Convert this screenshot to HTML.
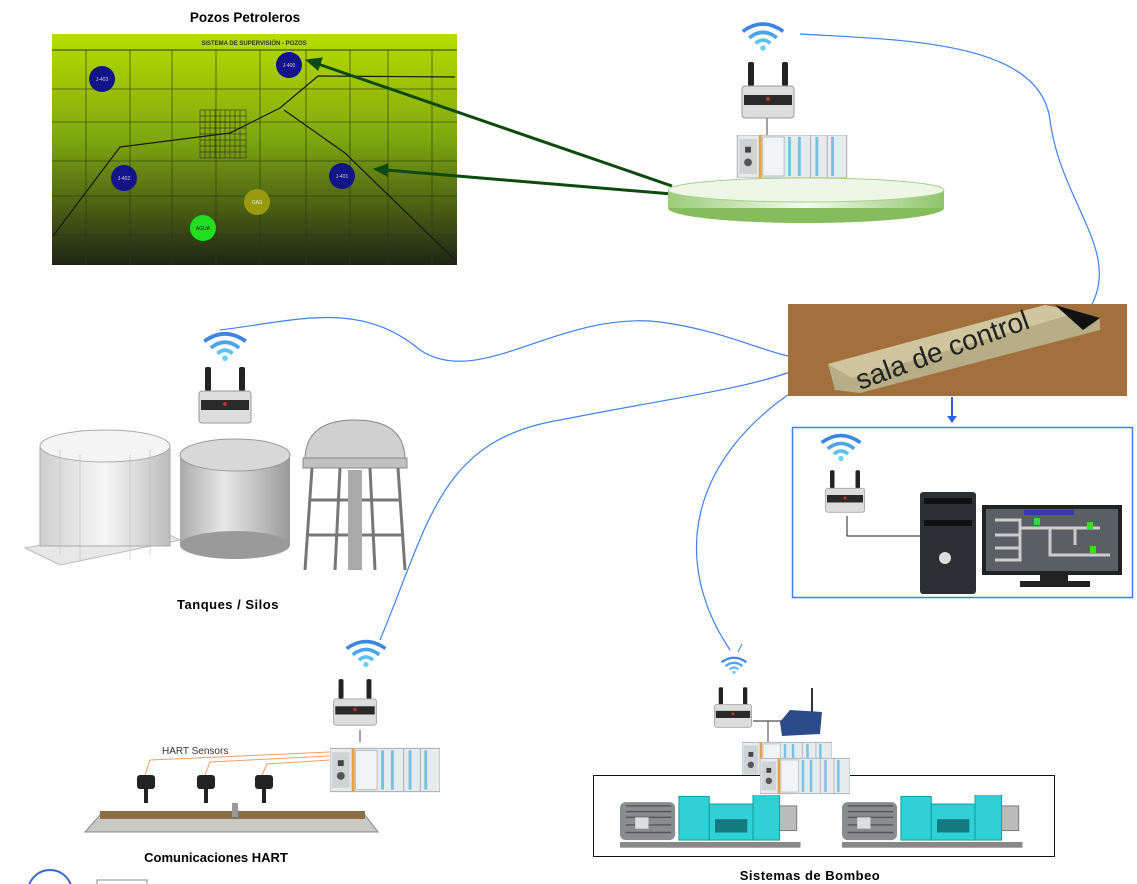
<!DOCTYPE html>
<html><head><meta charset="utf-8"><style>
html,body{margin:0;padding:0;background:#fff;}
svg{display:block;font-family:"Liberation Sans",sans-serif;}
</style></head><body>
<svg width="1137" height="884" viewBox="0 0 1137 884" xmlns="http://www.w3.org/2000/svg">
<defs>
<linearGradient id="gp" x1="0" y1="0" x2="0" y2="1">
<stop offset="0" stop-color="#b8dc00"/><stop offset="0.45" stop-color="#7fa810"/><stop offset="1" stop-color="#1e2416"/></linearGradient>
<linearGradient id="disk" x1="0" y1="0" x2="1" y2="0">
<stop offset="0" stop-color="#9ccc78"/><stop offset="0.5" stop-color="#f4fbef"/><stop offset="1" stop-color="#8fc46a"/></linearGradient>
<linearGradient id="tank" x1="0" y1="0" x2="1" y2="0">
<stop offset="0" stop-color="#cfcfcf"/><stop offset="0.5" stop-color="#f6f6f6"/><stop offset="1" stop-color="#bdbdbd"/></linearGradient>
<linearGradient id="silo" x1="0" y1="0" x2="1" y2="0">
<stop offset="0" stop-color="#aaa"/><stop offset="0.4" stop-color="#e8e8e8"/><stop offset="1" stop-color="#999"/></linearGradient>
<symbol id="wifi" viewBox="0 0 50 34">
<path d="M3 12 Q25 -4 47 12" stroke="#3a86e0" stroke-width="4" fill="none"/>
<path d="M10 19 Q25 7 40 19" stroke="#4ba4ea" stroke-width="4" fill="none"/>
<path d="M17 25 Q25 18 33 25" stroke="#5bc0f0" stroke-width="4" fill="none"/>
<circle cx="25" cy="30" r="3" fill="#6cd0f8"/>
</symbol>
<symbol id="router" viewBox="0 0 56 58">
<rect x="8" y="0" width="6" height="24" rx="2" fill="#222"/>
<rect x="42" y="0" width="6" height="24" rx="2" fill="#222"/>
<rect x="2" y="24" width="52" height="32" rx="3" fill="#ddd" stroke="#999"/>
<rect x="4" y="33" width="48" height="10" fill="#2a2a2a"/>
<circle cx="28" cy="37" r="2" fill="#b33"/>
</symbol>
<symbol id="plc" viewBox="0 0 112 44">
<rect x="0" y="0" width="112" height="44" fill="#e6ebee" stroke="#aab"/>
<rect x="2" y="4" width="18" height="36" fill="#cfd3d6"/>
<circle cx="11" cy="28" r="4" fill="#555"/>
<rect x="8" y="12" width="6" height="6" fill="#444"/>
<rect x="22" y="0" width="3" height="44" fill="#e8a040"/>
<rect x="26" y="2" width="22" height="40" fill="#f1f3f4" stroke="#bbb"/>
<rect x="52" y="2" width="3" height="40" fill="#7ac0e0"/>
<rect x="62" y="2" width="3" height="40" fill="#7ac0e0"/>
<rect x="80" y="2" width="3" height="40" fill="#7ac0e0"/>
<rect x="96" y="2" width="3" height="40" fill="#7ac0e0"/>
<line x1="75" y1="0" x2="75" y2="44" stroke="#aab"/>
<line x1="92" y1="0" x2="92" y2="44" stroke="#aab"/>
</symbol>
<symbol id="pump" viewBox="0 0 200 56">
<rect x="0" y="6" width="58" height="40" rx="6" fill="#8a8d90"/>
<g stroke="#555" stroke-width="1.5"><line x1="6" y1="10" x2="54" y2="10"/><line x1="6" y1="16" x2="54" y2="16"/><line x1="6" y1="22" x2="54" y2="22"/><line x1="6" y1="30" x2="54" y2="30"/><line x1="6" y1="38" x2="54" y2="38"/></g>
<rect x="16" y="22" width="14" height="12" fill="#ddd"/>
<rect x="62" y="0" width="32" height="46" fill="#2fd0d6" stroke="#199"/>
<rect x="94" y="8" width="46" height="38" fill="#2fd0d6" stroke="#199"/>
<rect x="100" y="24" width="34" height="14" fill="#147a80"/>
<rect x="140" y="-4" width="28" height="50" fill="#2fd0d6" stroke="#199"/>
<rect x="168" y="10" width="18" height="26" fill="#bbb" stroke="#777"/>
<rect x="0" y="48" width="190" height="6" fill="#888"/>
</symbol>
</defs>

<!-- blue connection curves -->
<g stroke="#3f7ff0" stroke-width="1.2" fill="none">
<path d="M800 34 C900 40 1040 40 1050 120 C1060 200 1120 250 1092 304"/>
<path d="M220 330 C300 320 360 300 420 350 C480 390 560 310 660 322 C720 330 760 350 788 356"/>
<path d="M380 640 C430 520 440 440 560 420 C660 400 740 390 790 372"/>
<path d="M730 650 C670 560 690 460 795 390"/>
</g>

<!-- Pozos Petroleros -->
<text x="245" y="22" font-size="13.5" font-weight="bold" text-anchor="middle">Pozos Petroleros</text>
<rect x="52" y="34" width="405" height="231" fill="url(#gp)"/>
<line x1="52" y1="50" x2="457" y2="50" stroke="#2a3a00" stroke-width="1"/>
<text x="254" y="45" font-size="6" font-weight="bold" text-anchor="middle" fill="#333">SISTEMA DE SUPERVISIÓN - POZOS</text>
<g stroke="#2a3a10" stroke-width="0.8" opacity="0.8">
<line x1="86" y1="50" x2="86" y2="265"/><line x1="130" y1="50" x2="130" y2="265"/><line x1="172" y1="50" x2="172" y2="265"/>
<line x1="216" y1="50" x2="216" y2="265"/><line x1="260" y1="50" x2="260" y2="265"/><line x1="306" y1="50" x2="306" y2="265"/>
<line x1="350" y1="50" x2="350" y2="265"/><line x1="388" y1="50" x2="388" y2="265"/><line x1="432" y1="50" x2="432" y2="265"/>
<line x1="52" y1="89" x2="457" y2="89"/><line x1="52" y1="122" x2="457" y2="122"/><line x1="52" y1="161" x2="457" y2="161"/>
<line x1="52" y1="196" x2="457" y2="196"/><line x1="52" y1="235" x2="457" y2="235"/>
</g>
<g stroke="#1a1a1a" stroke-width="0.5"><rect x="200" y="110" width="46" height="48" fill="none"/>
<path d="M205 110V158M210 110V158M215 110V158M220 110V158M225 110V158M230 110V158M235 110V158M240 110V158M200 116H246M200 122H246M200 128H246M200 134H246M200 140H246M200 146H246M200 152H246"/></g>
<polyline points="53,236 120,147 230,133 280,108 318,76 455,77" fill="none" stroke="#1a1a1a" stroke-width="1.2"/>
<polyline points="284,110 345,153 455,260" fill="none" stroke="#1a1a1a" stroke-width="1.2"/>
<g font-size="5" fill="#ccd" text-anchor="middle">
<circle cx="102" cy="79" r="13" fill="#14148a"/><text x="102" y="81">J-403</text>
<circle cx="289" cy="65" r="13" fill="#14148a"/><text x="289" y="67">J-400</text>
<circle cx="124" cy="178" r="13" fill="#14148a"/><text x="124" y="180">J-402</text>
<circle cx="342" cy="176" r="13" fill="#14148a"/><text x="342" y="178">J-401</text>
<circle cx="257" cy="202" r="13" fill="#9a9a10"/><text x="257" y="204" fill="#eee">GAS</text>
<circle cx="203" cy="228" r="13" fill="#22dd22"/><text x="203" y="230" fill="#222">AGUA</text>
</g>
<g stroke="#0e4a0e" stroke-width="3" fill="#0e4a0e">
<line x1="672" y1="186" x2="318" y2="64"/><polygon points="306,60 322,58 318,70" stroke-width="1"/>
<line x1="672" y1="194" x2="386" y2="170"/><polygon points="374,169 388,164 387,176" stroke-width="1"/>
</g>

<!-- top station -->
<ellipse cx="806" cy="208" rx="138" ry="15" fill="#86bd5c"/>
<rect x="668" y="190" width="276" height="18" fill="url(#disk)"/>
<ellipse cx="806" cy="190" rx="138" ry="12" fill="#eef7e6" stroke="#a8d090"/>
<line x1="767" y1="118" x2="767" y2="136" stroke="#444"/>
<use href="#wifi" x="740" y="20" width="46" height="32"/>
<use href="#router" x="740" y="62" width="56" height="58"/>
<use href="#plc" x="735" y="135" width="114" height="43"/>

<!-- sala de control -->
<rect x="788" y="304" width="339" height="92" fill="#a2703d"/>
<polygon points="828,364 1045,305 1100,318 1100,330 860,393 835,390" fill="#b7ad86"/>
<polygon points="828,364 1045,305 1080,312 852,378" fill="#cfc69f"/>
<polygon points="1055,305 1100,318 1083,330" fill="#111"/>
<text x="0" y="0" font-size="28" fill="#222" transform="translate(860 390) rotate(-20)">sala de control</text>
<line x1="952" y1="397" x2="952" y2="417" stroke="#3060e0" stroke-width="2"/>
<polygon points="947,416 957,416 952,423" fill="#3060e0"/>
<rect x="792.5" y="427.5" width="340" height="170" fill="#fff" stroke="#3a7ef0" stroke-width="1.5"/>
<use href="#wifi" x="817" y="432" width="48" height="30"/>
<use href="#router" x="824" y="468" width="42" height="48"/>
<polyline points="847,516 847,536 922,536" fill="none" stroke="#222" stroke-width="1"/>
<rect x="920" y="492" width="56" height="102" rx="3" fill="#2b2e33"/>
<rect x="924" y="498" width="48" height="6" fill="#111"/><rect x="924" y="520" width="48" height="6" fill="#111"/>
<circle cx="945" cy="558" r="6" fill="#ddd"/>
<rect x="982" y="505" width="140" height="70" fill="#222"/>
<rect x="986" y="509" width="132" height="62" fill="#5a5f66"/>
<rect x="1024" y="510" width="50" height="5" fill="#3a3aa0"/>
<g stroke="#ccc" stroke-width="3" fill="none"><path d="M995 520H1020V560H995M995 535H1020M995 548H1020M1020 528H1100M1050 528V555H1110M1075 528V545"/></g>
<rect x="1034" y="518" width="6" height="7" fill="#3d3"/><rect x="1087" y="522" width="6" height="7" fill="#3d3"/><rect x="1090" y="546" width="6" height="7" fill="#3d3"/>
<rect x="1040" y="575" width="28" height="6" fill="#222"/><rect x="1020" y="581" width="70" height="6" fill="#222"/>

<!-- tanques -->
<use href="#wifi" x="200" y="330" width="50" height="32"/>
<use href="#router" x="197" y="367" width="56" height="58"/>
<polygon points="25,548 60,565 180,540 150,525" fill="#e8e8e8" stroke="#bbb"/>
<rect x="40" y="446" width="130" height="100" fill="url(#tank)" stroke="#aaa"/>
<ellipse cx="105" cy="446" rx="65" ry="16" fill="#f4f4f4" stroke="#aaa"/>
<g stroke="#bbb" stroke-width="0.6"><line x1="60" y1="450" x2="60" y2="555"/><line x1="80" y1="455" x2="80" y2="560"/><line x1="130" y1="455" x2="130" y2="560"/><line x1="150" y1="450" x2="150" y2="555"/></g>
<rect x="180" y="455" width="110" height="90" fill="url(#silo)"/>
<ellipse cx="235" cy="545" rx="55" ry="14" fill="#9a9a9a"/>
<ellipse cx="235" cy="455" rx="55" ry="16" fill="#d8d8d8" stroke="#999"/>
<path d="M305 460 Q305 420 355 420 Q405 420 405 460 Z" fill="#d0d0d0" stroke="#888"/>
<rect x="303" y="458" width="104" height="10" fill="#c0c0c0" stroke="#888"/>
<g stroke="#777" stroke-width="3" fill="none"><path d="M312 468L305 570M398 468L405 570M340 468L335 570M370 468L375 570M310 500H400M308 535H402"/></g>
<rect x="348" y="470" width="14" height="100" fill="#aaa"/>
<text x="228" y="609" font-size="13" font-weight="bold" text-anchor="middle" letter-spacing="0.5">Tanques  /  Silos</text>

<!-- HART -->
<use href="#wifi" x="342" y="638" width="48" height="30"/>
<use href="#router" x="332" y="676" width="46" height="54"/>
<line x1="360" y1="730" x2="360" y2="742" stroke="#444"/>
<use href="#plc" x="330" y="742" width="110" height="56"/>
<text x="162" y="754" font-size="10" fill="#333">HART Sensors</text>
<g stroke="#f0a060" stroke-width="1" fill="none">
<path d="M145 775 L150 760 L330 752"/><path d="M205 775 L210 762 L330 756"/><path d="M262 775 L267 764 L330 760"/>
</g>
<g fill="#222">
<rect x="137" y="775" width="18" height="14" rx="3"/><rect x="197" y="775" width="18" height="14" rx="3"/><rect x="255" y="775" width="18" height="14" rx="3"/>
<rect x="144" y="789" width="4" height="14"/><rect x="204" y="789" width="4" height="14"/><rect x="262" y="789" width="4" height="14"/>
</g>
<polygon points="85,832 100,815 365,815 378,832" fill="#c9c9c4" stroke="#888"/>
<rect x="100" y="811" width="265" height="8" fill="#8b6f48"/>
<rect x="232" y="803" width="6" height="14" fill="#999"/>
<text x="216" y="862" font-size="13" font-weight="bold" text-anchor="middle">Comunicaciones HART</text>
<circle cx="50" cy="892" r="22" fill="none" stroke="#3a6ad0" stroke-width="2"/>
<rect x="97" y="880" width="50" height="10" fill="none" stroke="#888"/>

<!-- bombeo -->
<path d="M738 652 L742 644" stroke="#3f7ff0"/>
<use href="#wifi" x="720" y="655" width="28" height="20"/>
<use href="#router" x="713" y="686" width="40" height="44"/>
<line x1="753" y1="721" x2="782" y2="721" stroke="#222"/>
<line x1="768" y1="721" x2="768" y2="742" stroke="#444"/>
<polygon points="780,722 790,710 822,712 820,734 782,736" fill="#2a4a8a"/>
<line x1="812" y1="688" x2="812" y2="712" stroke="#333" stroke-width="2"/>
<use href="#plc" x="742" y="740" width="90" height="40"/>
<rect x="593.5" y="775.5" width="461" height="81" fill="#fff" stroke="#111"/>
<use href="#plc" x="760" y="752" width="90" height="48"/>
<use href="#pump" x="620" y="795" width="190" height="56"/>
<use href="#pump" x="842" y="795" width="190" height="56"/>
<text x="810" y="880" font-size="13" font-weight="bold" text-anchor="middle" letter-spacing="0.5">Sistemas de Bombeo</text>
</svg>
</body></html>
